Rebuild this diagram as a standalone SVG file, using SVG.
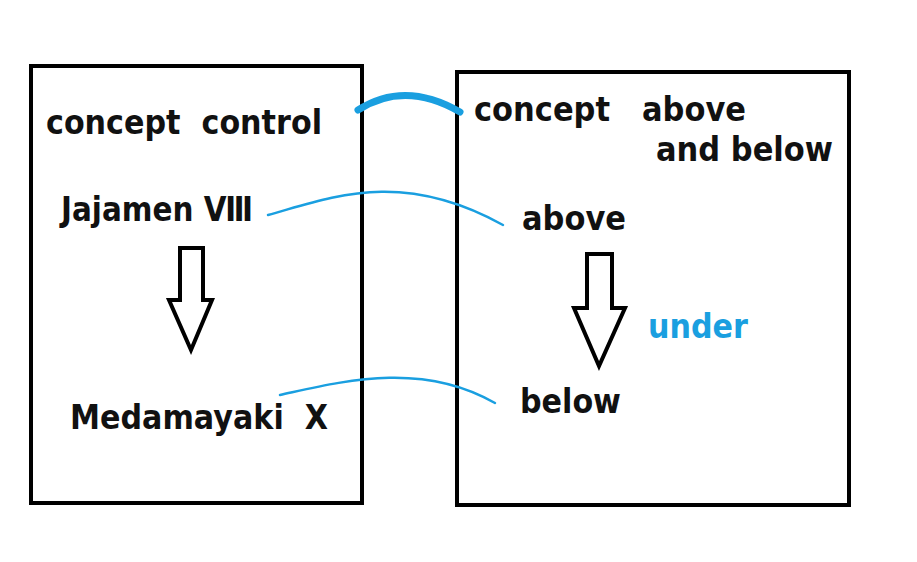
<svg xmlns="http://www.w3.org/2000/svg" width="917" height="562" viewBox="0 0 917 562">
<style>
.box{fill:none;stroke:#000;stroke-width:4}
.t{font-family:"DejaVu Sans","Liberation Sans",Arial,sans-serif;font-weight:bold;font-size:33px;fill:#111;white-space:pre}
.blue{fill:#1a9fe0}
.arr{fill:#fff;stroke:#000;stroke-width:4;stroke-linejoin:miter}
.link{fill:none;stroke:#1a9fe0;stroke-width:2.5;stroke-linecap:round}
.thick{stroke-width:7}
</style>
<rect width="917" height="562" fill="#fff"/>
<g id="left">
<rect class="box" x="31" y="66" width="331" height="437"/>
<text class="t" x="46" y="134" textLength="276" lengthAdjust="spacingAndGlyphs" xml:space="preserve">concept  control</text>
<text class="t" x="61" y="221" textLength="192" lengthAdjust="spacingAndGlyphs">Jajamen Ⅷ</text>
<path class="arr" d="M180,248 H203 V300 H212 L191,350 L169,300 H180 Z"/>
<text class="t" x="70" y="429" textLength="258" lengthAdjust="spacingAndGlyphs" xml:space="preserve">Medamayaki  X</text>
</g>
<g id="right">
<rect class="box" x="457" y="72" width="392" height="433"/>
<text class="t" x="474" y="121" textLength="272" lengthAdjust="spacingAndGlyphs" xml:space="preserve">concept   above</text>
<text class="t" x="656" y="161" textLength="177" lengthAdjust="spacingAndGlyphs">and below</text>
<text class="t" x="522" y="230" textLength="104" lengthAdjust="spacingAndGlyphs">above</text>
<path class="arr" d="M587,254 H612 V308 H625 L599,366 L574,308 H587 Z"/>
<text class="t blue" x="648" y="338" textLength="100" lengthAdjust="spacingAndGlyphs">under</text>
<text class="t" x="520" y="413" textLength="101" lengthAdjust="spacingAndGlyphs">below</text>
</g>
<g id="connectors">
<path class="link thick" d="M358,110 Q405,80 460,112"/>
<path class="link" d="M268,215 C330,198 400,168 503,225"/>
<path class="link" d="M280,395 C340,382 420,360 495,403"/>
</g>
</svg>
